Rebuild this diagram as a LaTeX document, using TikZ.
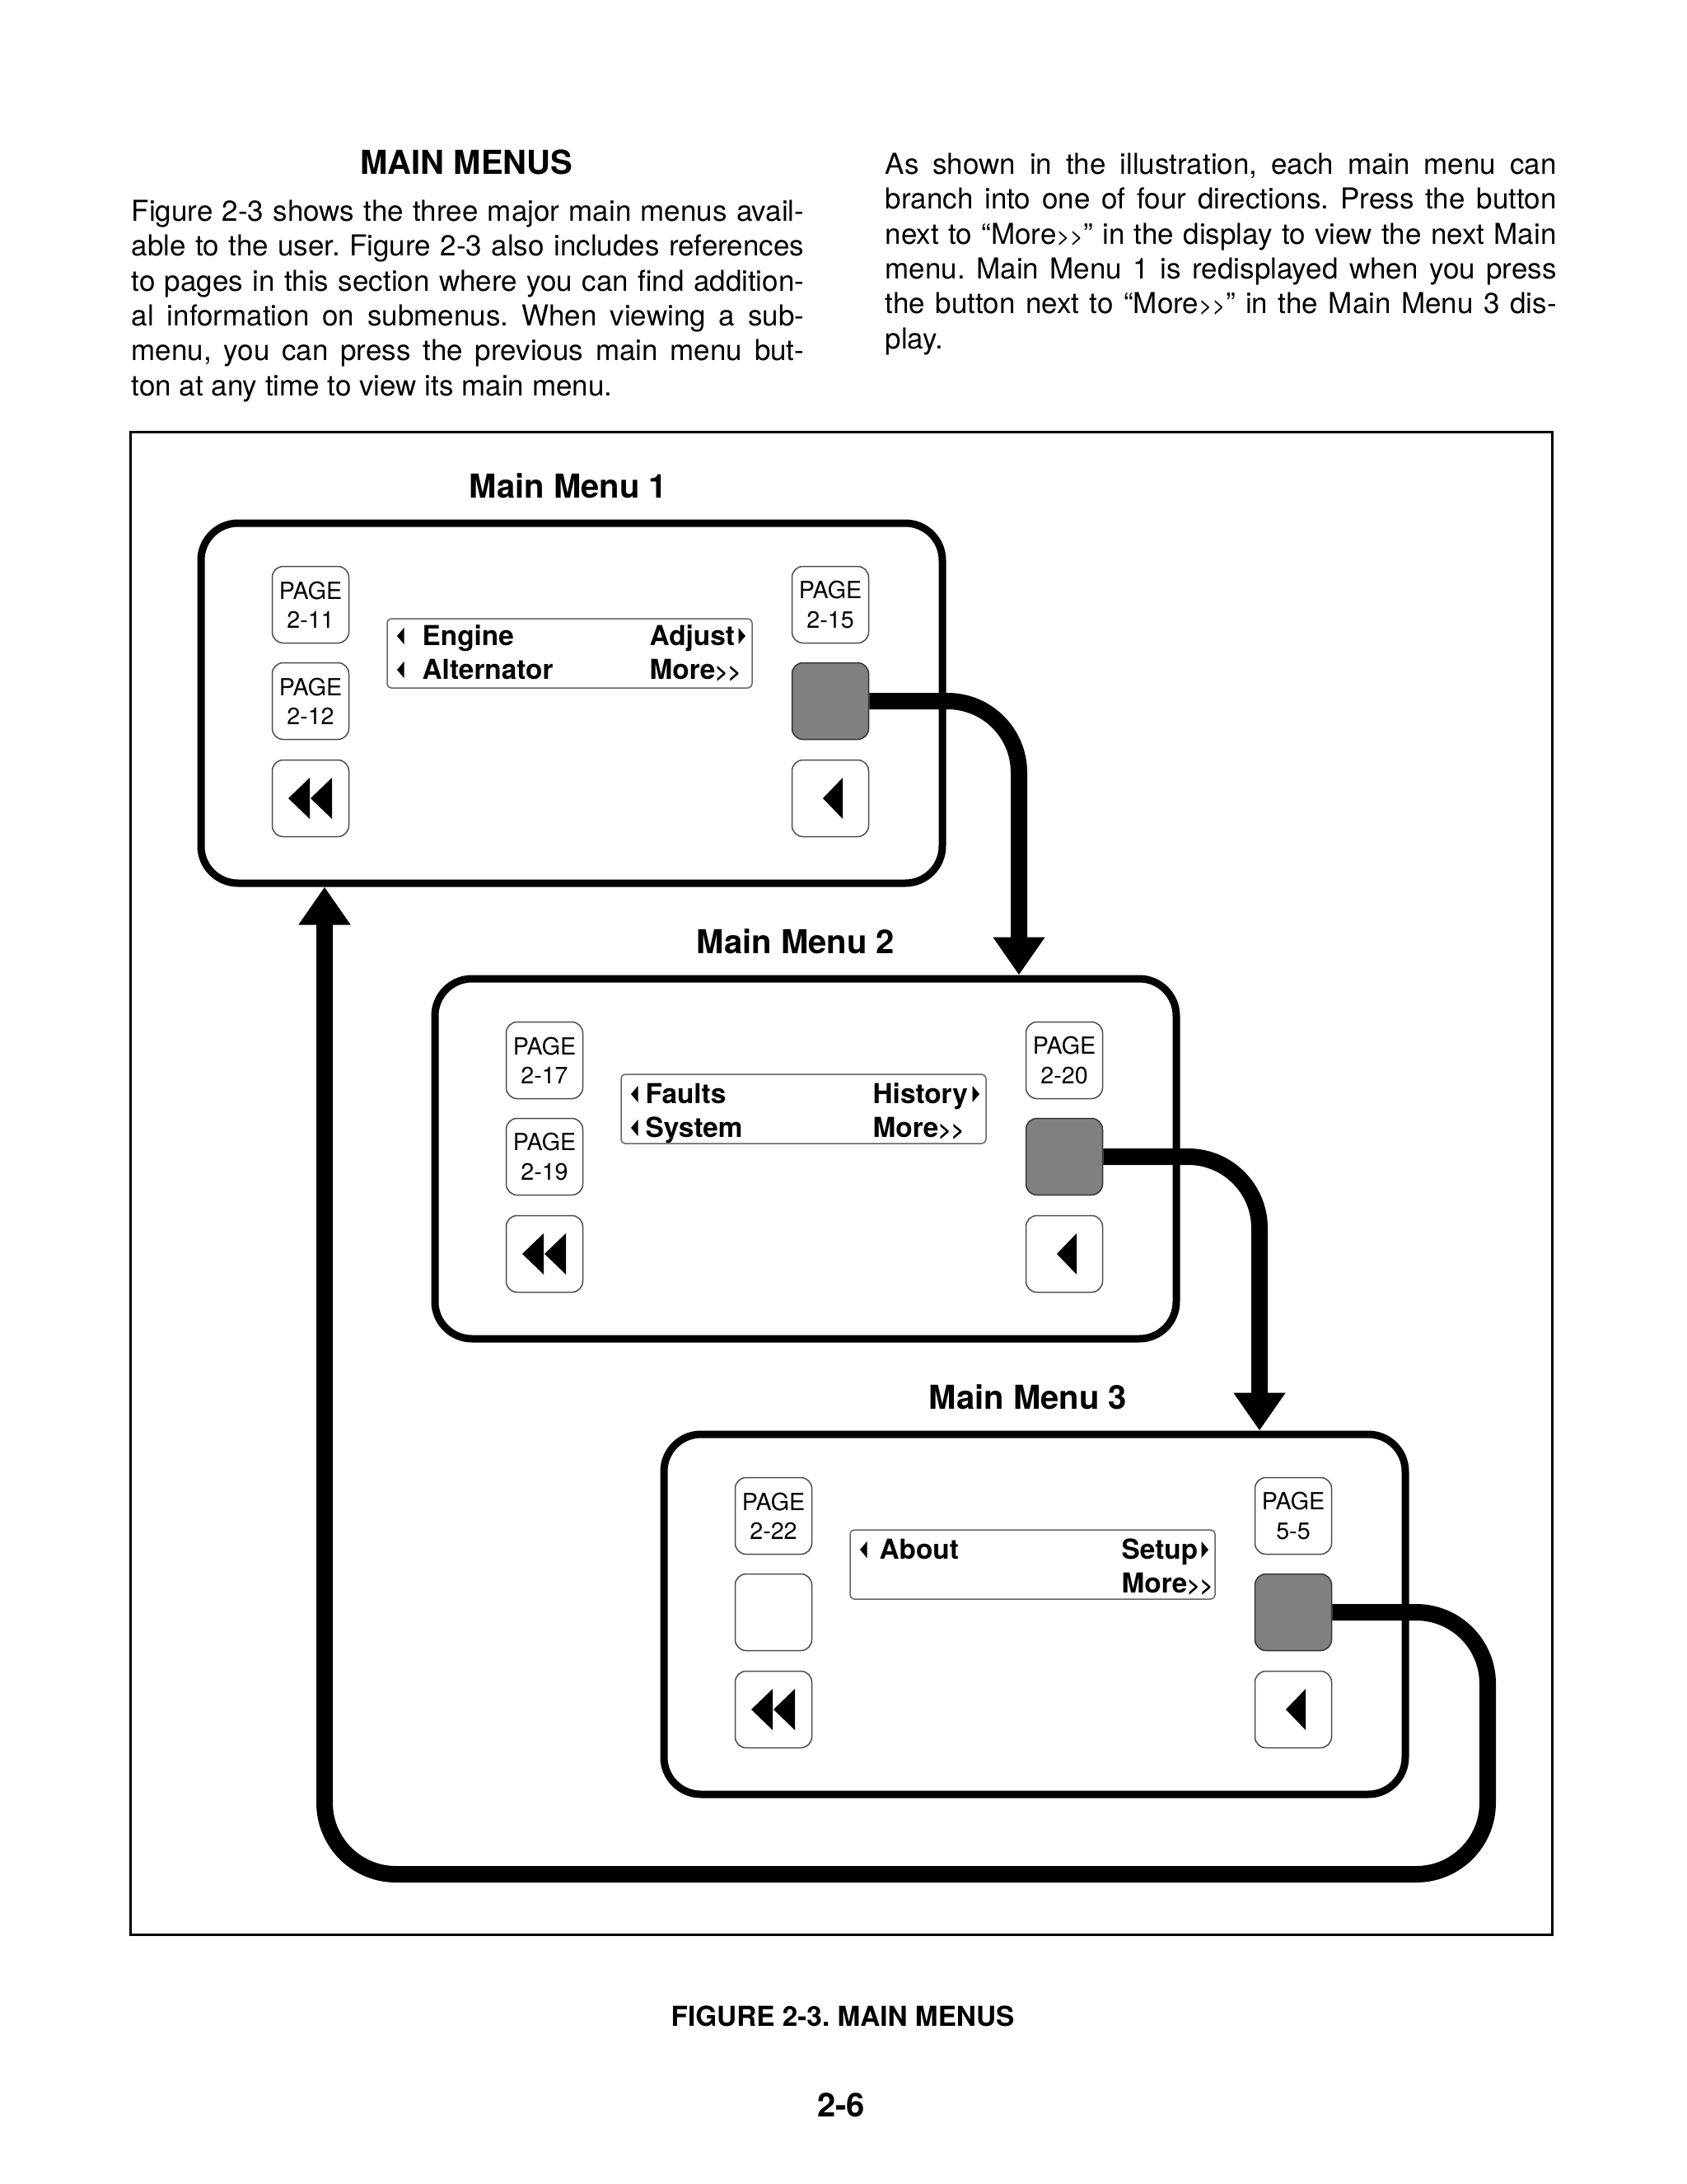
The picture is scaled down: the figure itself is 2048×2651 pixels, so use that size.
\documentclass[tikz,border=0pt]{standalone}
\usepackage{fontspec}
\setmainfont{TeX Gyre Heros}
\usepackage{tikz}
\usetikzlibrary{arrows.meta, calc}
\newcommand{\gtgt}{\scalebox{0.8}{>{}>}}
\frenchspacing

\begin{document}
\begin{tikzpicture}[x=0.3pt, y=-0.3pt,
    menubox/.style={draw, line width=2.7pt, rounded corners=13.5pt, minimum width=270pt, minimum height=131.1pt, inner sep=0pt},
    btn/.style={draw=black!70, line width=0.45pt, fill=white, rounded corners=4pt, minimum width=27.9pt, minimum height=27.9pt, inner sep=0pt, align=center, font=\fontsize{8.6}{10.6}\selectfont},
    morebtn/.style={btn, draw=black!80, fill=black!50},
    lcd/.style={draw=black!60, line width=0.45pt, rounded corners=1.5pt, minimum width=132.9pt, minimum height=25.2pt, inner sep=0pt},
    lcdtext/.style={anchor=base west, inner sep=0pt, font=\fontsize{10}{12}\selectfont\bfseries},
    menutitle/.style={anchor=base, inner sep=0pt, font=\fontsize{12}{14}\selectfont\bfseries},
    nextarrow/.style={line width=6pt, rounded corners=26pt, -{Triangle[width=18pt, length=13.8pt]}},
]
    \useasboundingbox (0,0) rectangle (2048,2651);

    % page text
    \node[anchor=base, inner sep=0pt, font=\fontsize{12}{14}\selectfont\bfseries] (heading) at (566.5,211.5) {MAIN MENUS};
    \node[anchor=base west, inner sep=0pt] (leftcol) at (159,268.5) {\parbox[t]{245pt}{\fontsize{10.5}{12.69}\selectfont
        \makebox[\linewidth][s]{Figure 2-3 shows the three major main menus avail-}\\
        \makebox[\linewidth][s]{able to the user. Figure 2-3 also includes references}\\
        \makebox[\linewidth][s]{to pages in this section where you can find addition-}\\
        \makebox[\linewidth][s]{al information on submenus. When viewing a sub-}\\
        \makebox[\linewidth][s]{menu, you can press the previous main menu but-}\\
        ton at any time to view its main menu.}};
    \node[anchor=base west, inner sep=0pt] (rightcol) at (1074,211.5) {\parbox[t]{244.5pt}{\fontsize{10.5}{12.69}\selectfont
        \makebox[\linewidth][s]{As shown in the illustration, each main menu can}\\
        \makebox[\linewidth][s]{branch into one of four directions. Press the button}\\
        \makebox[\linewidth][s]{next to “More\gtgt” in the display to view the next Main}\\
        \makebox[\linewidth][s]{menu. Main Menu 1 is redisplayed when you press}\\
        \makebox[\linewidth][s]{the button next to “More\gtgt” in the Main Menu 3 dis-}\\
        play.}};

    \draw[line width=0.9pt] (158,524) rectangle (1884,2348);

    % Main Menu 1
    \begin{scope}[shift={(244,635)}]
        \node[menutitle] (t1) at (446,-31) {Main Menu 1};
        \node[menubox] (m1) at (450,218.5) {};
        \node[btn] (m1a) at (133,99) {PAGE\\2-11};
        \node[btn] (m1b) at (133,216) {PAGE\\2-12};
        \node[btn] (m1home) at (133,334) {};
        \node[btn] (m1c) at (764,99) {PAGE\\2-15};
        \node[morebtn] (m1more) at (764,216) {};
        \node[btn] (m1back) at (764,334) {};
        \node[lcd] (m1lcd) at (447.5,158) {};
        \node[lcdtext] (m1l1) at (268,148) {Engine};
        \node[lcdtext] (m1l2) at (268,189) {Alternator};
        \node[lcdtext] (m1r1) at (544,148) {Adjust};
        \node[lcdtext] (m1r2) at (544,189) {More\gtgt};
        \fill (238,137) -- (246.5,127) -- (246.5,147) -- cycle;
        \fill (238,178) -- (246.5,168) -- (246.5,188) -- cycle;
        \fill (661,137) -- (652.5,127) -- (652.5,147) -- cycle;
        \fill (106,334) -- (132,309) -- (132,359) -- cycle;
        \fill (133,334) -- (159,309) -- (159,359) -- cycle;
        \fill (755,334) -- (779,309) -- (779,359) -- cycle;
    \end{scope}

    % Main Menu 2
    \begin{scope}[shift={(528,1188)}]
        \node[menutitle] (t2) at (438,-31) {Main Menu 2};
        \node[menubox] (m2) at (450,218.5) {};
        \node[btn] (m2a) at (133,99) {PAGE\\2-17};
        \node[btn] (m2b) at (133,216) {PAGE\\2-19};
        \node[btn] (m2home) at (133,334) {};
        \node[btn] (m2c) at (764,99) {PAGE\\2-20};
        \node[morebtn] (m2more) at (764,216) {};
        \node[btn] (m2back) at (764,334) {};
        \node[lcd] (m2lcd) at (447.5,158) {};
        \node[lcdtext] (m2l1) at (255,151) {Faults};
        \node[lcdtext] (m2l2) at (255,192) {System};
        \node[lcdtext] (m2r1) at (531,151) {History};
        \node[lcdtext] (m2r2) at (531,192) {More\gtgt};
        \fill (238,140) -- (246.5,130) -- (246.5,150) -- cycle;
        \fill (238,181) -- (246.5,171) -- (246.5,191) -- cycle;
        \fill (661,140) -- (652.5,130) -- (652.5,150) -- cycle;
        \fill (106,334) -- (132,309) -- (132,359) -- cycle;
        \fill (133,334) -- (159,309) -- (159,359) -- cycle;
        \fill (755,334) -- (779,309) -- (779,359) -- cycle;
    \end{scope}

    % Main Menu 3
    \begin{scope}[shift={(806,1741)}]
        \node[menutitle] (t3) at (442,-31) {Main Menu 3};
        \node[menubox] (m3) at (450,218.5) {};
        \node[btn] (m3a) at (133,99) {PAGE\\2-22};
        \node[btn] (m3b) at (133,216) {};
        \node[btn] (m3home) at (133,334) {};
        \node[btn] (m3c) at (764,99) {PAGE\\5-5};
        \node[morebtn] (m3more) at (764,216) {};
        \node[btn] (m3back) at (764,334) {};
        \node[lcd] (m3lcd) at (447.5,158) {};
        \node[lcdtext] (m3l1) at (261,151) {About};
        \node[lcdtext] (m3r1) at (555,151) {Setup};
        \node[lcdtext] (m3r2) at (555,192) {More\gtgt};
        \fill (238,140) -- (246.5,130) -- (246.5,150) -- cycle;
        \fill (661,140) -- (652.5,130) -- (652.5,150) -- cycle;
        \fill (106,334) -- (132,309) -- (132,359) -- cycle;
        \fill (133,334) -- (159,309) -- (159,359) -- cycle;
        \fill (755,334) -- (779,309) -- (779,359) -- cycle;
    \end{scope}

    % More>> links
    \draw[nextarrow] (m1more.east) -| ($(m2.north)+(259,0)$);
    \draw[nextarrow] (m2more.east) -| ($(m3.north)+(273,0)$);
    \coordinate (loopcorner) at (1806,2275);
    \draw[nextarrow] (m3more.east) -| (loopcorner) -| ($(m1.south)+(-300,0)$);

    \node[anchor=base, inner sep=0pt, font=\fontsize{10}{12}\selectfont\bfseries] (caption) at (1023,2459) {FIGURE 2-3. MAIN MENUS};
    \node[anchor=base, inner sep=0pt, font=\fontsize{12}{14}\selectfont\bfseries] (pageno) at (1021,2569) {2-6};
\end{tikzpicture}
\end{document}
